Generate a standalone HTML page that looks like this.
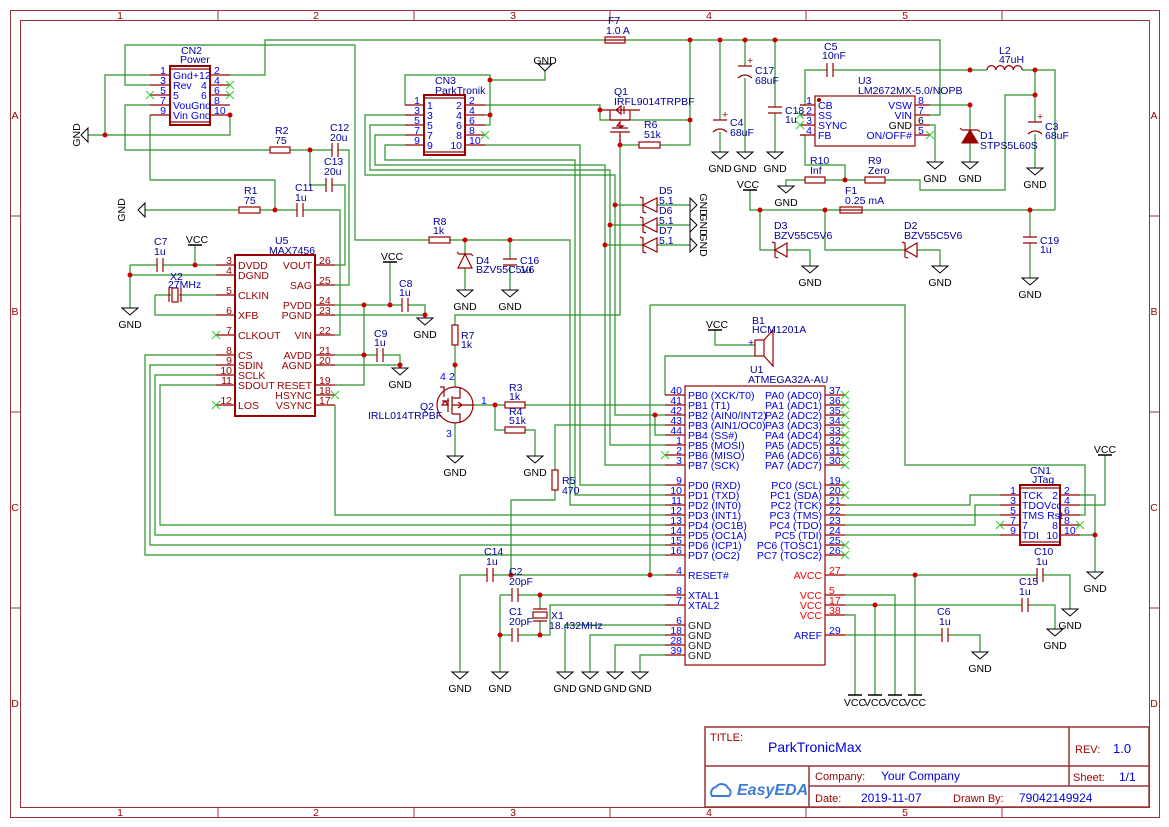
<!DOCTYPE html>
<html><head><meta charset="utf-8"><style>
body{margin:0;background:#fff}
svg{display:block}
.w{stroke:#2a922a;fill:none;stroke-width:1.2}
.p{stroke:#990000;fill:none;stroke-width:1.2}
.b{stroke:#990000;fill:none;stroke-width:2}
.k{stroke:#000;fill:none;stroke-width:1}
.x{stroke:#33cc33;stroke-width:1}
text{font-family:"Liberation Sans",sans-serif;font-size:10.5px}
.pn{fill:#0000ff}
.lb{fill:#000099}
.nr{fill:#990000}
.nb{fill:#0000dd}
.nv{fill:#ff0000}
.g{font-family:"Liberation Serif",serif;font-size:13px;fill:#000}
.fr{fill:#990000;font-size:10px}
</style></head><body>
<svg width="1169" height="827" viewBox="0 0 1169 827" xmlns="http://www.w3.org/2000/svg">
<defs>
<g id="gnd"><path d="M-8 0H8L0 7Z" stroke="#000" fill="none"/></g>
<g id="vcc"><path d="M-7 0H7" stroke="#000" stroke-width="1.5"/></g>
<g id="xm"><path d="M-4 -4L4 4M-4 4L4 -4" stroke="#33cc33"/></g>
</defs>
<!-- frame -->
<rect x="10.5" y="10.5" width="1149" height="807" fill="none" stroke="#993333"/>
<rect x="20.5" y="20.5" width="1129" height="787" fill="none" stroke="#993333"/>
<path d="M218 10V20M414 10V20M610 10V20M806 10V20M1002 10V20M218 807V817M414 807V817M610 807V817M806 807V817M1002 807V817M10 216H20M10 412H20M10 608H20M1149 216H1159M1149 412H1159M1149 608H1159" stroke="#993333"/>
<g class="fr" text-anchor="middle">
<text x="120" y="19">1</text><text x="316" y="19">2</text><text x="513" y="19">3</text><text x="709" y="19">4</text><text x="905" y="19">5</text>
<text x="120" y="816">1</text><text x="316" y="816">2</text><text x="513" y="816">3</text><text x="709" y="816">4</text><text x="905" y="816">5</text>
<text x="15" y="119">A</text><text x="15" y="315">B</text><text x="15" y="511">C</text><text x="15" y="707">D</text>
<text x="1154" y="119">A</text><text x="1154" y="315">B</text><text x="1154" y="511">C</text><text x="1154" y="707">D</text>
</g>
<!-- title block -->
<path d="M705 727H1149V807H705ZM705 766H1149M809 766V807M809 786H1149M1069 727V786" stroke="#993333" fill="none" stroke-width="1.5"/>
<text x="710" y="741" class="nr" style="font-size:11px">TITLE:</text>
<text x="768" y="752" style="font-size:14px;fill:#0000dd">ParkTronicMax</text>
<text x="1075" y="753" class="nr" style="font-size:11px">REV:</text>
<text x="1113" y="753" style="font-size:13px;fill:#0000dd">1.0</text>
<text x="815" y="780" class="nr" style="font-size:11px">Company:</text>
<text x="881" y="780" style="font-size:12px;fill:#0000dd">Your Company</text>
<text x="1073" y="781" class="nr" style="font-size:11px">Sheet:</text>
<text x="1119" y="781" style="font-size:12px;fill:#0000dd">1/1</text>
<text x="815" y="802" class="nr" style="font-size:11px">Date:</text>
<text x="861" y="802" style="font-size:12px;fill:#0000dd">2019-11-07</text>
<text x="953" y="802" class="nr" style="font-size:11px">Drawn By:</text>
<text x="1019" y="802" style="font-size:12px;fill:#0000dd">79042149924</text>
<path d="M712 796a6 6 0 0 1 4-9a7 7 0 0 1 12 1a5 5 0 0 1 1 8Z" stroke="#3c7dd9" stroke-width="2" fill="none"/>
<text x="737" y="795" style="font-size:16px;font-weight:bold;font-style:italic;fill:#3c7dd9">EasyEDA</text>

<!-- wires -->
<path class="w" d="M230 75H265V40H605M625 40H940V115H930
M150 85H125V45H355V240H429
M150 75H105V135M88 135H230V115
M150 105H125V150H270M290 150H332M338 150H349V285H335
M310 150V185H326M332 185H345V265H335
M150 115V180H275V210M145 210H239M260 210H297M303 210H340V335H335
M130 265H157M163 265H216M195 265V245M130 265V308M130 275H216
M155 295H171M179 295H216M155 295V315H216
M335 305H402M408 305H425V318M335 315H425M390 262V305
M335 355H377M383 355H400V368M335 365H400M335 385H364V305
M216 355H145V555H665M216 365H150V545H665M216 375H155V535H665M216 385H160V525H665
M335 405V515H665
M405 105V75H490V125H485M485 115H490M490 80H545V71
M485 105H600V120H690M620 135V315H455V325M620 145H639M660 145H690V40
M485 145H580V485H665
M405 115H365V175H615V415H665M405 125H370V170H610V445H665M405 135H375V165H605V465H665M405 145H385V160H575V495H665
M450 240H570V505H665M655 415V435H665
M455 345V387M455 423V456
M473 405H505M525 405H665M495 405V430H505M525 430H535V456
M665 425H555V470M555 490V500H511V575
M650 305H905V465H1085V515H1080M650 305V575
M460 575H487M493 575H665M460 575V672
M665 395V356H755M715 330V345H755
M500 595H512M518 595H665M500 595V672M500 635H512M518 635H550V605H665M540 595V609M540 621V635
M665 625H565V672M665 635H590V672M665 645H615V672M665 655H640V672
M720 40V120M720 132V152M745 40V66M745 78V152M775 40V107M775 113V152
M800 105H805V70H827M833 70H987M1022 70H1055V210
M930 105H970V130M970 143V162M1035 70V122M1035 134V168M1035 95H1005V190H920V180H885
M930 125H935V162M800 135H805V165H845V180M825 180H865M805 180H786V186
M750 190V210H840M862 210H1055M1030 210V237M1030 243V278
M760 210V250H775M787 250H810V266M825 210V250H905M917 250H940V266
M615 205H643M657 205H690M610 225H643M657 225H690M605 245H643M657 245H690
M465 240V254M465 268V290M510 240V259M510 265V290
M845 505H970V495H1000M845 515H1000M845 525H975V505H1000M845 535H1000
M1080 495H1095V572M1080 535H1095M1080 505H1105V455
M845 575H1037M1043 575H1070V609M915 575V695
M845 595H895V695M845 605H1022M1028 605H1055V629M875 605V695M845 615H855V695
M845 635H942M948 635H980V652"/>

<!-- boxes -->
<rect class="b" x="170" y="66" width="40" height="59"/><path class="p" d="M170 69H210M170 122H210"/>
<rect class="b" x="424" y="95" width="41" height="60"/><path class="p" d="M424 98H465M424 152H465"/>
<rect class="b" x="1020" y="485" width="40" height="60"/><path class="p" d="M1020 488H1060M1020 542H1060"/>
<rect class="b" x="235" y="255" width="80" height="161"/>
<rect class="p" x="685" y="386" width="140" height="279"/>
<rect class="p" x="815" y="96" width="100" height="50"/>
<circle cx="819" cy="100" r="2" fill="#990000"/>
<!-- pin stubs -->
<path class="p" d="M150 75H170M150 85H170M150 95H170M150 105H170M150 115H170M210 75H230M210 85H230M210 95H230M210 105H230M210 115H230
M405 105H424M405 115H424M405 125H424M405 135H424M405 145H424M465 105H485M465 115H485M465 125H485M465 135H485M465 145H485
M1000 495H1020M1000 505H1020M1000 515H1020M1000 525H1020M1000 535H1020M1060 495H1080M1060 505H1080M1060 515H1080M1060 525H1080M1060 535H1080
M216 265H235M216 275H235M216 295H235M216 315H235M216 335H235M216 355H235M216 365H235M216 375H235M216 385H235M216 405H235
M315 265H335M315 285H335M315 305H335M315 315H335M315 335H335M315 355H335M315 365H335M315 385H335M315 395H335M315 405H335
M800 105H815M800 115H815M800 125H815M800 135H815M915 105H930M915 115H930M915 125H930M915 135H930
M665 395H685M665 405H685M665 415H685M665 425H685M665 435H685M665 445H685M665 455H685M665 465H685M665 485H685M665 495H685M665 505H685M665 515H685M665 525H685M665 535H685M665 545H685M665 555H685M665 575H685M665 595H685M665 605H685M665 625H685M665 635H685M665 645H685M665 655H685
M825 395H845M825 405H845M825 415H845M825 425H845M825 435H845M825 445H845M825 455H845M825 465H845M825 485H845M825 495H845M825 505H845M825 515H845M825 525H845M825 535H845M825 545H845M825 555H845M825 575H845M825 595H845M825 605H845M825 615H845M825 635H845"/>

<!-- resistors / fuses -->
<g class="p">
<rect x="270" y="147" width="20" height="6"/><rect x="239" y="207" width="21" height="6"/><rect x="429" y="237" width="21" height="6"/>
<rect x="639" y="142" width="21" height="6"/><rect x="505" y="402" width="20" height="6"/><rect x="505" y="427" width="20" height="6"/>
<rect x="805" y="177" width="20" height="6"/><rect x="865" y="177" width="20" height="6"/>
<rect x="452" y="325" width="6" height="20"/><rect x="552" y="470" width="6" height="20"/>
<rect x="605" y="37" width="20" height="6"/><path d="M605 40H625"/><rect x="840" y="207" width="22" height="6"/><path d="M840 210H862"/>
</g>
<!-- capacitors -->
<path class="p" d="M332 143V157M338 143V157M326 178V192M332 178V192M297 203V217M303 203V217M157 258V272M163 258V272M402 298V312M408 298V312M377 348V362M383 348V362M487 568V582M493 568V582M512 588V602M518 588V602M512 628V642M518 628V642M1037 568V582M1043 568V582M1022 598V612M1028 598V612M942 628V642M948 628V642M827 63V77M833 63V77
M768 107H782M768 113H782M503 259H517M503 265H517M1023 237H1037M1023 243H1037
M713 120H727M713 132Q720 126 727 132M738 66H752M738 78Q745 72 752 78M1028 122H1042M1028 134Q1035 128 1042 134"/>
<g style="font-size:9px" class="nr"><text x="722" y="118">+</text><text x="747" y="64">+</text><text x="1037" y="120">+</text></g>
<!-- L2 -->
<path class="p" d="M987 70a4.4 4.4 0 0 1 8.8 0a4.4 4.4 0 0 1 8.8 0a4.4 4.4 0 0 1 8.8 0a4.4 4.4 0 0 1 8.8 0"/>
<!-- crystals -->
<path class="p" d="M169 288V302M181 288V302M533 609H547M533 621H547"/><rect class="p" x="172" y="288" width="6" height="14"/><rect class="p" x="533" y="612" width="14" height="6"/>
<!-- zeners -->
<path class="p" d="M458 268H472L465 254ZM457 252L459 254H471L473 256
M657 198V212L643 205ZM640 197L643 198V212L646 213M657 218V232L643 225ZM640 217L643 218V232L646 233M657 238V252L643 245ZM640 237L643 238V252L646 253
M787 243V257L775 250ZM772 242L775 243V257L778 258M917 243V257L905 250ZM902 242L905 243V257L908 258"/>
<path d="M962 143H978L970 130Z" fill="#990000" stroke="#990000"/><path class="p" d="M962 130H978M962 130L960 128M978 130L980 132"/>
<!-- Q1 -->
<path class="p" d="M600 110H610V120M630 120V110H640M610 110H630M616 110L621 106V114ZM624 106V114M610 120H630M612 128H628M620 128V122L617 126H623Z M610 132H630M620 132V145"/>
<!-- Q2 -->
<circle class="p" cx="455" cy="405" r="18"/>
<path class="p" d="M442 405H448M448 398V412M452 396V414M452 398H460V387M452 414H460V423M452 405H473M458 402L462 405L458 408M445 401L448 405L442 405ZM442 401H449M440 387H444V397"/>
<!-- buzzer -->
<rect class="p" x="755" y="340" width="9" height="16"/><path class="p" d="M764 340L773 330V366L764 356"/>

<!-- power symbols -->
<path class="k" d="M88 128V142L81 135ZM145 203V217L138 210ZM690 198L697 205L690 212ZM690 218L697 225L690 232ZM690 238L697 245L690 252Z"/>
<g class="k"><path d="M690 198V252"/></g>
<use href="#gnd" x="720" y="152"/><use href="#gnd" x="745" y="152"/><use href="#gnd" x="775" y="152"/>
<use href="#gnd" x="935" y="162"/><use href="#gnd" x="970" y="162"/><use href="#gnd" x="1035" y="168"/><use href="#gnd" x="786" y="186"/>
<use href="#gnd" x="810" y="266"/><use href="#gnd" x="940" y="266"/><use href="#gnd" x="1030" y="278"/>
<path d="M538 64H552L545 71Z" stroke="#000" fill="none"/>
<use href="#gnd" x="130" y="308"/><use href="#gnd" x="425" y="318"/><use href="#gnd" x="400" y="368"/><use href="#gnd" x="465" y="290"/><use href="#gnd" x="510" y="290"/>
<use href="#gnd" x="455" y="456"/><use href="#gnd" x="535" y="456"/>
<use href="#gnd" x="460" y="672"/><use href="#gnd" x="500" y="672"/><use href="#gnd" x="565" y="672"/><use href="#gnd" x="590" y="672"/><use href="#gnd" x="615" y="672"/><use href="#gnd" x="640" y="672"/>
<use href="#gnd" x="1070" y="609"/><use href="#gnd" x="1055" y="629"/><use href="#gnd" x="980" y="652"/><use href="#gnd" x="1095" y="572"/>
<use href="#vcc" x="195" y="245"/><use href="#vcc" x="390" y="262"/><use href="#vcc" x="750" y="190"/><use href="#vcc" x="715" y="330"/><use href="#vcc" x="1105" y="455"/>
<use href="#vcc" x="855" y="695"/><use href="#vcc" x="875" y="695"/><use href="#vcc" x="895" y="695"/><use href="#vcc" x="915" y="695"/>
<g class="g" text-anchor="middle">
<text x="720" y="172">GND</text><text x="745" y="172">GND</text><text x="775" y="172">GND</text>
<text x="935" y="182">GND</text><text x="970" y="182">GND</text><text x="1035" y="188">GND</text><text x="786" y="206">GND</text>
<text x="810" y="286">GND</text><text x="940" y="286">GND</text><text x="1030" y="298">GND</text><text x="545" y="64">GND</text>
<text x="130" y="328">GND</text><text x="425" y="338">GND</text><text x="400" y="388">GND</text><text x="465" y="310">GND</text><text x="510" y="310">GND</text>
<text x="455" y="476">GND</text><text x="535" y="476">GND</text>
<text x="460" y="692">GND</text><text x="500" y="692">GND</text><text x="565" y="692">GND</text><text x="590" y="692">GND</text><text x="615" y="692">GND</text><text x="640" y="692">GND</text>
<text x="1070" y="629">GND</text><text x="1055" y="649">GND</text><text x="980" y="672">GND</text><text x="1095" y="592">GND</text>
<text x="197" y="243">VCC</text><text x="392" y="260">VCC</text><text x="748" y="188">VCC</text><text x="717" y="328">VCC</text><text x="1105" y="453">VCC</text>
<text x="855" y="706">VCC</text><text x="875" y="706">VCC</text><text x="895" y="706">VCC</text><text x="915" y="706">VCC</text>
<text transform="translate(80 135) rotate(-90)">GND</text><text transform="translate(125 210) rotate(-90)">GND</text>
<text transform="translate(700 205) rotate(90)">GND</text><text transform="translate(700 225) rotate(90)">GND</text><text transform="translate(700 245) rotate(90)">GND</text>
</g>

<!-- junctions -->
<g fill="#cc0000">
<circle cx="105" cy="135" r="2.5"/><circle cx="230" cy="115" r="2.5"/><circle cx="310" cy="150" r="2.5"/><circle cx="275" cy="210" r="2.5"/>
<circle cx="195" cy="265" r="2.5"/><circle cx="130" cy="275" r="2.5"/><circle cx="364" cy="305" r="2.5"/><circle cx="390" cy="305" r="2.5"/><circle cx="425" cy="315" r="2.5"/>
<circle cx="364" cy="355" r="2.5"/><circle cx="400" cy="365" r="2.5"/><circle cx="490" cy="80" r="2.5"/><circle cx="490" cy="115" r="2.5"/>
<circle cx="600" cy="110" r="2.5"/><circle cx="690" cy="120" r="2.5"/><circle cx="620" cy="145" r="2.5"/><circle cx="690" cy="40" r="2.5"/>
<circle cx="720" cy="40" r="2.5"/><circle cx="745" cy="40" r="2.5"/><circle cx="775" cy="40" r="2.5"/>
<circle cx="465" cy="240" r="2.5"/><circle cx="510" cy="240" r="2.5"/><circle cx="615" cy="205" r="2.5"/><circle cx="610" cy="225" r="2.5"/><circle cx="605" cy="245" r="2.5"/>
<circle cx="455" cy="365" r="2.5"/><circle cx="495" cy="405" r="2.5"/><circle cx="655" cy="415" r="2.5"/><circle cx="650" cy="575" r="2.5"/><circle cx="511" cy="575" r="2.5"/>
<circle cx="540" cy="595" r="2.5"/><circle cx="540" cy="635" r="2.5"/><circle cx="500" cy="635" r="2.5"/>
<circle cx="970" cy="70" r="2.5"/><circle cx="970" cy="105" r="2.5"/><circle cx="1035" cy="70" r="2.5"/><circle cx="1035" cy="95" r="2.5"/><circle cx="845" cy="180" r="2.5"/>
<circle cx="760" cy="210" r="2.5"/><circle cx="825" cy="210" r="2.5"/><circle cx="1030" cy="210" r="2.5"/>
<circle cx="1095" cy="535" r="2.5"/><circle cx="915" cy="575" r="2.5"/><circle cx="875" cy="605" r="2.5"/>
</g>
<!-- no connect -->
<g><use href="#xm" x="230" y="85"/><use href="#xm" x="230" y="95"/><use href="#xm" x="150" y="95"/><use href="#xm" x="485" y="135"/>
<use href="#xm" x="216" y="335"/><use href="#xm" x="216" y="405"/><use href="#xm" x="335" y="395"/>
<use href="#xm" x="800" y="115"/><use href="#xm" x="800" y="125"/><use href="#xm" x="930" y="135"/><use href="#xm" x="665" y="455"/>
<use href="#xm" x="845" y="395"/><use href="#xm" x="845" y="405"/><use href="#xm" x="845" y="415"/><use href="#xm" x="845" y="425"/><use href="#xm" x="845" y="435"/><use href="#xm" x="845" y="445"/><use href="#xm" x="845" y="455"/><use href="#xm" x="845" y="465"/>
<use href="#xm" x="845" y="485"/><use href="#xm" x="845" y="495"/><use href="#xm" x="845" y="545"/><use href="#xm" x="845" y="555"/>
<use href="#xm" x="1000" y="525"/><use href="#xm" x="1080" y="525"/></g>

<!-- part labels -->
<g class="lb">
<text x="181" y="54">CN2</text><text x="180" y="63">Power</text>
<text x="435" y="84">CN3</text><text x="435" y="94">ParkTronik</text>
<text x="1030" y="474">CN1</text><text x="1032" y="483">JTag</text>
<text x="275" y="244">U5</text><text x="269" y="254">MAX7456</text>
<text x="750" y="373">U1</text><text x="748" y="383">ATMEGA32A-AU</text>
<text x="858" y="84">U3</text><text x="858" y="94">LM2672MX-5.0/NOPB</text>
<text x="275" y="134">R2</text><text x="275" y="144">75</text>
<text x="330" y="131">C12</text><text x="330" y="141">20u</text>
<text x="324" y="165">C13</text><text x="324" y="175">20u</text>
<text x="244" y="194">R1</text><text x="244" y="204">75</text>
<text x="295" y="191">C11</text><text x="295" y="201">1u</text>
<text x="154" y="245">C7</text><text x="154" y="255">1u</text>
<text x="170" y="280">X2</text><text x="168" y="288">27MHz</text>
<text x="399" y="287">C8</text><text x="399" y="296">1u</text>
<text x="374" y="337">C9</text><text x="374" y="346">1u</text>
<text x="433" y="225">R8</text><text x="433" y="234">1k</text>
<text x="476" y="264">D4</text><text x="476" y="273">BZV55C5V6</text>
<text x="520" y="264">C16</text><text x="520" y="273">1u</text>
<text x="461" y="339">R7</text><text x="461" y="348">1k</text>
<text x="420" y="410">Q2</text><text x="368" y="419">IRLL014TRPBF</text>
<text x="509" y="391">R3</text><text x="509" y="400">1k</text>
<text x="509" y="415">R4</text><text x="509" y="424">51k</text>
<text x="562" y="484">R5</text><text x="562" y="494">470</text>
<text x="484" y="555">C14</text><text x="486" y="565">1u</text>
<text x="509" y="575">C2</text><text x="509" y="585">20pF</text>
<text x="509" y="615">C1</text><text x="509" y="625">20pF</text>
<text x="551" y="619">X1</text><text x="549" y="629">18.432MHz</text>
<text x="608" y="24">F7</text><text x="606" y="34">1.0 A</text>
<text x="614" y="95">Q1</text><text x="614" y="105">IRFL9014TRPBF</text>
<text x="644" y="128">R6</text><text x="644" y="138">51k</text>
<text x="659" y="194">D5</text><text x="659" y="204">5.1</text><text x="659" y="214">D6</text><text x="659" y="224">5.1</text><text x="659" y="234">D7</text><text x="659" y="244">5.1</text>
<text x="730" y="126">C4</text><text x="730" y="136">68uF</text>
<text x="755" y="74">C17</text><text x="755" y="84">68uF</text>
<text x="785" y="114">C18</text><text x="785" y="123">1u</text>
<text x="824" y="50">C5</text><text x="822" y="59">10nF</text>
<text x="999" y="54">L2</text><text x="999" y="63">47uH</text>
<text x="980" y="139">D1</text><text x="980" y="149">STPS5L60S</text>
<text x="1045" y="130">C3</text><text x="1045" y="139">68uF</text>
<text x="810" y="164">R10</text><text x="810" y="174">Inf</text>
<text x="868" y="164">R9</text><text x="868" y="174">Zero</text>
<text x="845" y="194">F1</text><text x="845" y="204">0.25 mA</text>
<text x="774" y="229">D3</text><text x="774" y="239">BZV55C5V6</text>
<text x="904" y="229">D2</text><text x="904" y="239">BZV55C5V6</text>
<text x="1040" y="244">C19</text><text x="1040" y="253">1u</text>
<text x="752" y="324">B1</text><text x="752" y="333">HCM1201A</text>
<text x="1034" y="555">C10</text><text x="1036" y="565">1u</text>
<text x="1019" y="585">C15</text><text x="1019" y="595">1u</text>
<text x="937" y="615">C6</text><text x="939" y="625">1u</text>
</g>
<text x="748" y="346" class="pn">+</text>

<!-- pin numbers / names -->
<g class="pn" text-anchor="end">
<text x="166" y="74">1</text><text x="166" y="84">3</text><text x="166" y="94">5</text><text x="166" y="104">7</text><text x="166" y="114">9</text>
<text x="420" y="104">1</text><text x="420" y="114">3</text><text x="420" y="124">5</text><text x="420" y="134">7</text><text x="420" y="144">9</text>
<text x="1016" y="494">1</text><text x="1016" y="504">3</text><text x="1016" y="514">5</text><text x="1016" y="524">7</text><text x="1016" y="534">9</text>
<text x="812" y="104">1</text><text x="812" y="114">2</text><text x="812" y="124">3</text><text x="812" y="134">4</text>
<text x="682" y="394">40</text><text x="682" y="404">41</text><text x="682" y="414">42</text><text x="682" y="424">43</text><text x="682" y="434">44</text><text x="682" y="444">1</text><text x="682" y="454">2</text><text x="682" y="464">3</text>
<text x="682" y="484">9</text><text x="682" y="494">10</text><text x="682" y="504">11</text><text x="682" y="514">12</text><text x="682" y="524">13</text><text x="682" y="534">14</text><text x="682" y="544">15</text><text x="682" y="554">16</text>
<text x="682" y="574">4</text><text x="682" y="594">8</text><text x="682" y="604">7</text><text x="682" y="624">6</text><text x="682" y="634">18</text><text x="682" y="644">28</text><text x="682" y="654">39</text>
</g>
<g class="pn">
<text x="214" y="74">2</text><text x="214" y="84">4</text><text x="214" y="94">6</text><text x="214" y="104">8</text><text x="214" y="114">10</text>
<text x="469" y="104">2</text><text x="469" y="114">4</text><text x="469" y="124">6</text><text x="469" y="134">8</text><text x="469" y="144">10</text>
<text x="1064" y="494">2</text><text x="1064" y="504">4</text><text x="1064" y="514">6</text><text x="1064" y="524">8</text><text x="1064" y="534">10</text>
<text x="918" y="104">8</text><text x="918" y="114">7</text><text x="918" y="124" fill="#000">6</text><text x="918" y="134">5</text>
<text x="829" y="394">37</text><text x="829" y="404">36</text><text x="829" y="414">35</text><text x="829" y="424">34</text><text x="829" y="434">33</text><text x="829" y="444">32</text><text x="829" y="454">31</text><text x="829" y="464">30</text>
<text x="829" y="484">19</text><text x="829" y="494">20</text><text x="829" y="504">21</text><text x="829" y="514">22</text><text x="829" y="524">23</text><text x="829" y="534">24</text><text x="829" y="544">25</text><text x="829" y="554">26</text>
<text x="829" y="634">29</text><text x="481" y="404">1</text><text x="440" y="380">4</text><text x="449" y="380">2</text><text x="446" y="437">3</text>
</g>
<g class="nv"><text x="829" y="574">27</text><text x="829" y="594">5</text><text x="829" y="604">17</text><text x="829" y="614">38</text></g>
<g class="nb">
<text x="173" y="79">Gnd+12</text><text x="173" y="89">Rev</text><text x="173" y="99">5</text><text x="173" y="109">VouGnd</text><text x="173" y="119">Vin Gnd</text>
<text x="201" y="89">4</text><text x="201" y="99">6</text>
<text x="427" y="109">1</text><text x="427" y="119">3</text><text x="427" y="129">5</text><text x="427" y="139">7</text><text x="427" y="149">9</text>
<text x="1022" y="499">TCK</text><text x="1022" y="509">TDOVcc</text><text x="1022" y="519">TMS Rst</text><text x="1022" y="529">7</text><text x="1022" y="539">TDI</text>
<text x="818" y="109">CB</text><text x="818" y="119">SS</text><text x="818" y="129">SYNC</text><text x="818" y="139">FB</text>
<text x="688" y="399">PB0 (XCK/T0)</text><text x="688" y="409">PB1 (T1)</text><text x="688" y="419">PB2 (AIN0/INT2)</text><text x="688" y="429">PB3 (AIN1/OC0)</text><text x="688" y="439">PB4 (SS#)</text><text x="688" y="449">PB5 (MOSI)</text><text x="688" y="459">PB6 (MISO)</text><text x="688" y="469">PB7 (SCK)</text>
<text x="688" y="489">PD0 (RXD)</text><text x="688" y="499">PD1 (TXD)</text><text x="688" y="509">PD2 (INT0)</text><text x="688" y="519">PD3 (INT1)</text><text x="688" y="529">PD4 (OC1B)</text><text x="688" y="539">PD5 (OC1A)</text><text x="688" y="549">PD6 (ICP1)</text><text x="688" y="559">PD7 (OC2)</text>
<text x="688" y="579">RESET#</text><text x="688" y="599">XTAL1</text><text x="688" y="609">XTAL2</text>
</g>
<g fill="#222"><text x="688" y="629">GND</text><text x="688" y="639">GND</text><text x="688" y="649">GND</text><text x="688" y="659">GND</text></g>
<g class="nb" text-anchor="end">
<text x="462" y="109">2</text><text x="462" y="119">4</text><text x="462" y="129">6</text><text x="462" y="139">8</text><text x="462" y="149">10</text>
<text x="1058" y="499">2</text><text x="1058" y="529">8</text><text x="1058" y="539">10</text>
<text x="912" y="109">VSW</text><text x="912" y="119">VIN</text><text x="912" y="129" fill="#000">GND</text><text x="912" y="139">ON/OFF#</text>
<text x="822" y="399">PA0 (ADC0)</text><text x="822" y="409">PA1 (ADC1)</text><text x="822" y="419">PA2 (ADC2)</text><text x="822" y="429">PA3 (ADC3)</text><text x="822" y="439">PA4 (ADC4)</text><text x="822" y="449">PA5 (ADC5)</text><text x="822" y="459">PA6 (ADC6)</text><text x="822" y="469">PA7 (ADC7)</text>
<text x="822" y="489">PC0 (SCL)</text><text x="822" y="499">PC1 (SDA)</text><text x="822" y="509">PC2 (TCK)</text><text x="822" y="519">PC3 (TMS)</text><text x="822" y="529">PC4 (TDO)</text><text x="822" y="539">PC5 (TDI)</text><text x="822" y="549">PC6 (TOSC1)</text><text x="822" y="559">PC7 (TOSC2)</text>
<text x="822" y="639">AREF</text>
</g>
<g class="nv" text-anchor="end"><text x="822" y="579">AVCC</text><text x="822" y="599">VCC</text><text x="822" y="609">VCC</text><text x="822" y="619">VCC</text></g>
<!-- U5 -->
<g class="nr" text-anchor="end">
<text x="232" y="264">3</text><text x="232" y="274">4</text><text x="232" y="294">5</text><text x="232" y="314">6</text><text x="232" y="334">7</text><text x="232" y="354">8</text><text x="232" y="364">9</text><text x="232" y="374">10</text><text x="232" y="384">11</text><text x="232" y="404">12</text>
<text x="312" y="269">VOUT</text><text x="312" y="289">SAG</text><text x="312" y="309">PVDD</text><text x="312" y="319">PGND</text><text x="312" y="339">VIN</text><text x="312" y="359">AVDD</text><text x="312" y="369">AGND</text><text x="312" y="389">RESET</text><text x="312" y="399">HSYNC</text><text x="312" y="409">VSYNC</text>
</g>
<g class="nr">
<text x="238" y="269">DVDD</text><text x="238" y="279">DGND</text><text x="238" y="299">CLKIN</text><text x="238" y="319">XFB</text><text x="238" y="339">CLKOUT</text><text x="238" y="359">CS</text><text x="238" y="369">SDIN</text><text x="238" y="379">SCLK</text><text x="238" y="389">SDOUT</text><text x="238" y="409">LOS</text>
<text x="319" y="264">26</text><text x="319" y="284">25</text><text x="319" y="304">24</text><text x="319" y="314">23</text><text x="319" y="334">22</text><text x="319" y="354">21</text><text x="319" y="364">20</text><text x="319" y="384">19</text><text x="319" y="394">18</text><text x="319" y="404">17</text>
</g>
</svg>
</body></html>
